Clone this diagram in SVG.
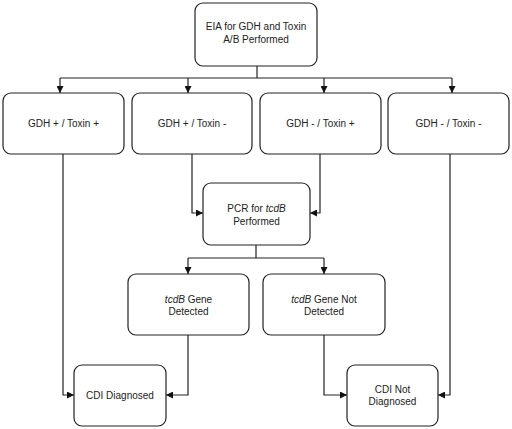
<svg xmlns="http://www.w3.org/2000/svg" width="512" height="429" viewBox="0 0 512 429">
<style>
.box{fill:#fff;stroke:#222;stroke-width:1.2}
.t{font-family:"Liberation Sans",Arial,sans-serif;font-size:10px;fill:#222;text-anchor:middle}
.c{fill:none;stroke:#222;stroke-width:1.2}
</style>
<defs>
<marker id="ah" viewBox="0 0 10 10" refX="10" refY="5" markerWidth="7" markerHeight="7" markerUnits="userSpaceOnUse" orient="auto">
<path d="M0,0 L10,5 L0,10 Z" fill="#111"/>
</marker>
</defs>
<rect width="512" height="429" fill="#fff"/>
<g id="connectors">
<path class="c" d="M257,66 V78"/>
<path class="c" d="M60,78 H452"/>
<path class="c" d="M60,78 V93" marker-end="url(#ah)"/>
<path class="c" d="M188,78 V93" marker-end="url(#ah)"/>
<path class="c" d="M324,78 V93" marker-end="url(#ah)"/>
<path class="c" d="M452,78 V93" marker-end="url(#ah)"/>
<path class="c" d="M192,154 V213 H203" marker-end="url(#ah)"/>
<path class="c" d="M320,154 V213 H310" marker-end="url(#ah)"/>
<path class="c" d="M256,245 V258"/>
<path class="c" d="M188,258 H324"/>
<path class="c" d="M188,258 V274" marker-end="url(#ah)"/>
<path class="c" d="M324,258 V274" marker-end="url(#ah)"/>
<path class="c" d="M63,154 V395 H74" marker-end="url(#ah)"/>
<path class="c" d="M188,335 V395 H166" marker-end="url(#ah)"/>
<path class="c" d="M324,335 V395 H347" marker-end="url(#ah)"/>
<path class="c" d="M450,154 V395 H438" marker-end="url(#ah)"/>
</g>
<g id="eia">
<rect class="box" x="195" y="3" width="122" height="63" rx="8"/>
<text class="t" x="256" y="30">EIA for GDH and Toxin</text>
<text class="t" x="256" y="43">A/B Performed</text>
</g>
<g id="gpp">
<rect class="box" x="3" y="93" width="121" height="61" rx="8"/>
<text class="t" x="63.5" y="127">GDH + / Toxin +</text>
</g>
<g id="gpm">
<rect class="box" x="132" y="93" width="120" height="61" rx="8"/>
<text class="t" x="192" y="127">GDH + / Toxin -</text>
</g>
<g id="gmp">
<rect class="box" x="260" y="93" width="121" height="61" rx="8"/>
<text class="t" x="320.5" y="127">GDH - / Toxin +</text>
</g>
<g id="gmm">
<rect class="box" x="388" y="93" width="121" height="61" rx="8"/>
<text class="t" x="448.5" y="127">GDH - / Toxin -</text>
</g>
<g id="pcr">
<rect class="box" x="203" y="183" width="107" height="62" rx="8"/>
<text class="t" x="256.5" y="212">PCR for <tspan font-style="italic">tcdB</tspan></text>
<text class="t" x="256.5" y="225">Performed</text>
</g>
<g id="det">
<rect class="box" x="128" y="274" width="121" height="61" rx="8"/>
<text class="t" x="188.5" y="303"><tspan font-style="italic">tcdB</tspan> Gene</text>
<text class="t" x="188.5" y="315">Detected</text>
</g>
<g id="notdet">
<rect class="box" x="263" y="274" width="122" height="61" rx="8"/>
<text class="t" x="324" y="303"><tspan font-style="italic">tcdB</tspan> Gene Not</text>
<text class="t" x="324" y="315">Detected</text>
</g>
<g id="cdi">
<rect class="box" x="74" y="365" width="92" height="61" rx="8"/>
<text class="t" x="120" y="399">CDI Diagnosed</text>
</g>
<g id="cdinot">
<rect class="box" x="347" y="365" width="91" height="61" rx="8"/>
<text class="t" x="392.5" y="393">CDI Not</text>
<text class="t" x="392.5" y="405">Diagnosed</text>
</g>
</svg>
